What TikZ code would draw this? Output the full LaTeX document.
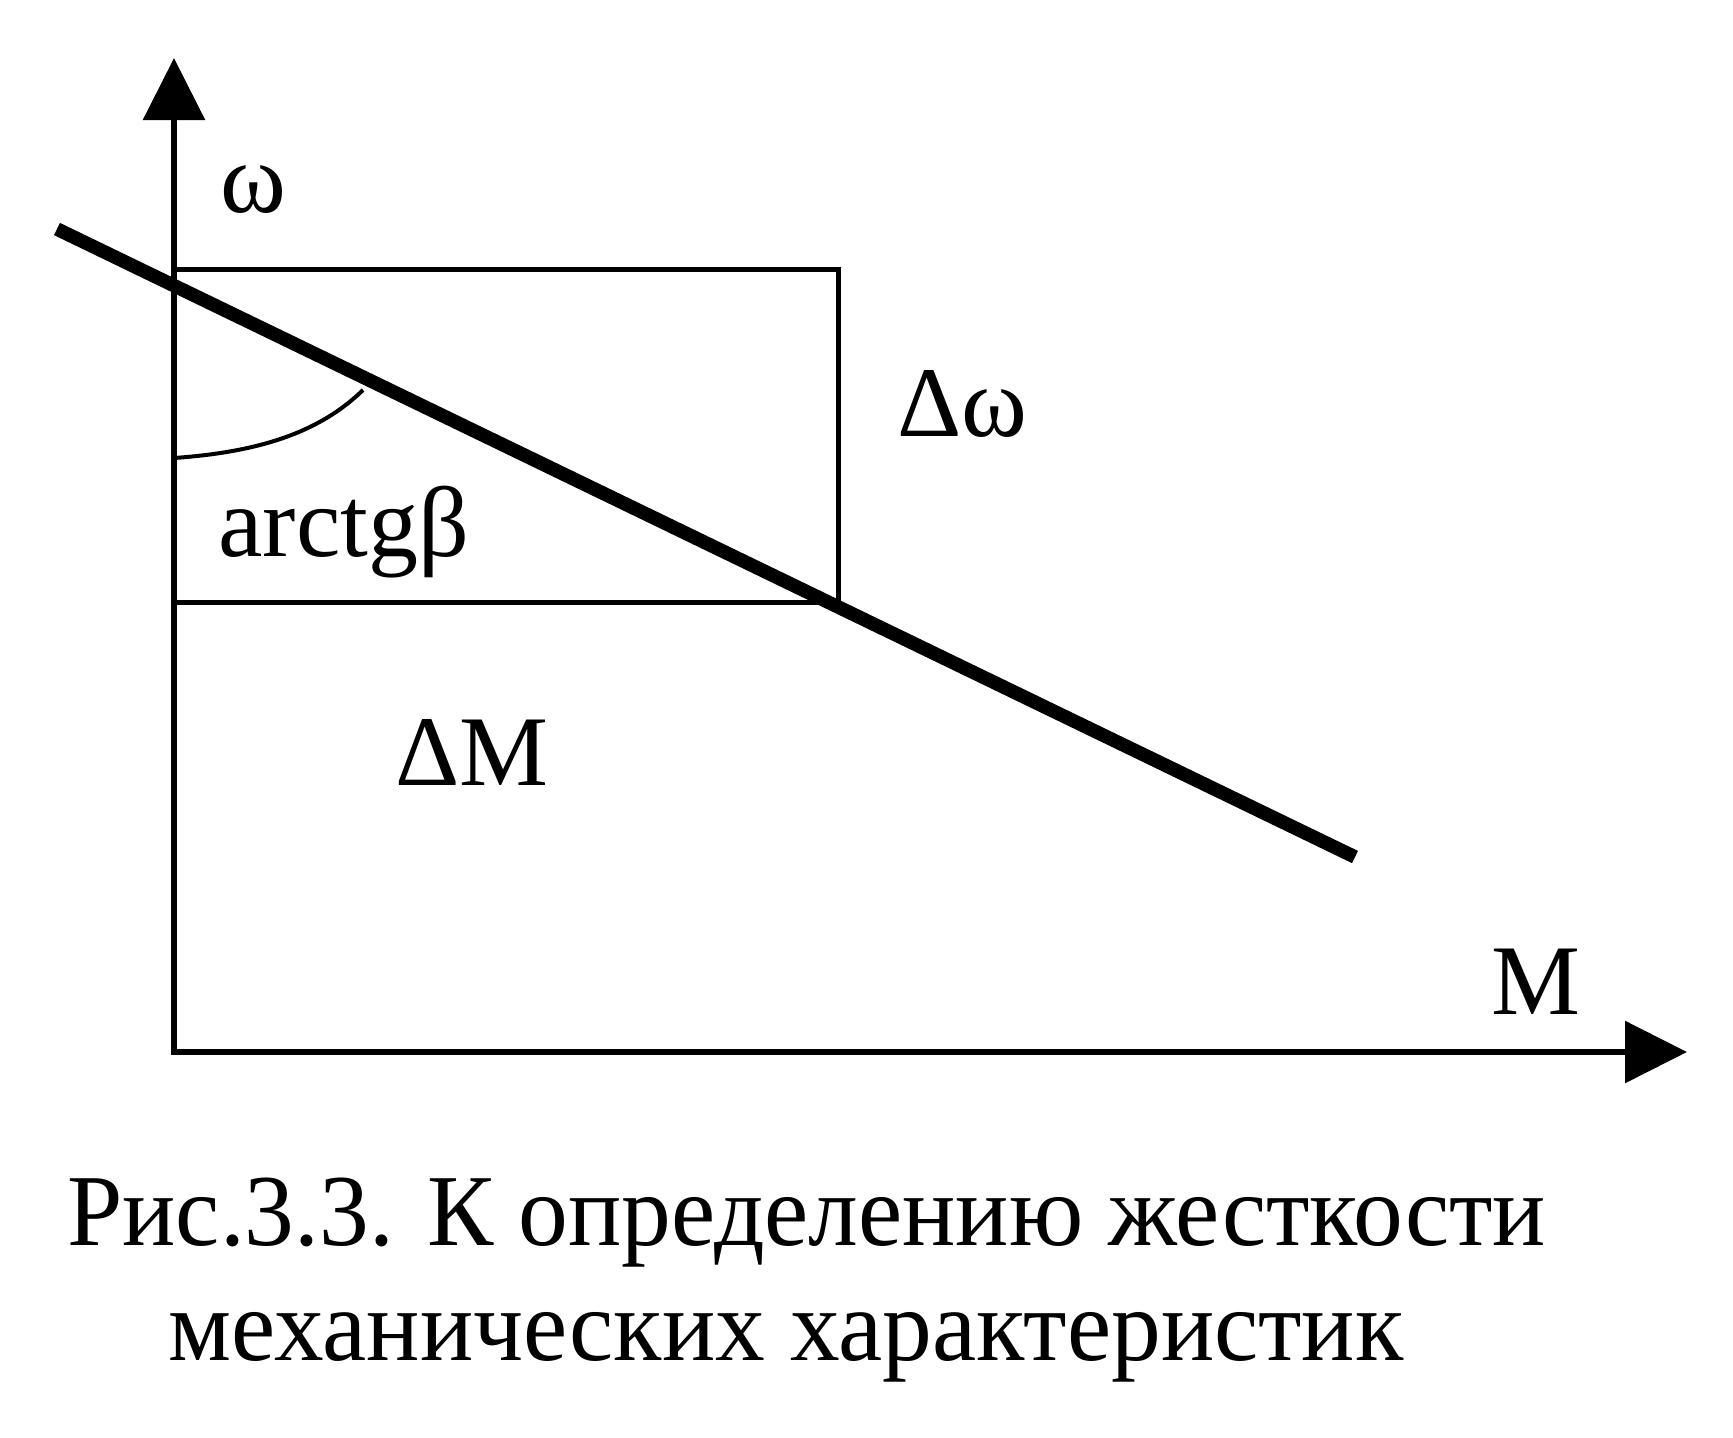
\documentclass[tikz,border=0pt]{standalone}
\usepackage{fontspec}
\setmainfont{Liberation Serif}
\newfontfamily\capfont[FakeStretch=0.975]{Liberation Serif}
\usetikzlibrary{arrows.meta}
\begin{document}
\begin{tikzpicture}[x=0.5pt,y=-0.5pt,
  axis/.style={line width=3pt, {Triangle[length=31pt,width=30.5pt]}-{Triangle[length=31pt,width=30.5pt]}},
  box/.style={line width=2.5pt},
  charline/.style={line width=6.8pt},
  anglearc/.style={line width=2pt},
  lbl/.style={font=\fontsize{50}{60}\selectfont, inner sep=0pt, anchor=base west},
  captext/.style={font=\capfont\fontsize{51}{61}\selectfont, inner sep=0pt, anchor=base west}]
\useasboundingbox (0,0) rectangle (1733,1437);
\coordinate (O) at (174,1052);
\coordinate (Ytip) at (174,58);
\coordinate (Xtip) at (1687,1052);
\coordinate (R1) at (174,269);
\coordinate (R2) at (838,269);
\coordinate (R3) at (838,602);
\coordinate (R4) at (174,602);
\coordinate (L1) at (57,229);
\coordinate (L2) at (1355,857);
\coordinate (A1) at (174,458);
\coordinate (A2) at (363,390);
\draw[box] (R1) -- (R2) -- (R3) -- (R4);
\draw[charline] (L1) -- (L2);
\draw[anglearc] (A1) .. controls (260,452) and (320,432) .. (A2);
\draw[axis] (Ytip) -- (O) -- (Xtip);
\node[lbl] (w) at (220,212) {ω};
\node[lbl] (dw) at (897,436) {Δω};
\node[lbl] (arc) at (218,556) {arctgβ};
\node[lbl] (dM) at (395,785) {ΔM};
\node[lbl] (M) at (1491,1014) {M};
\node[captext] (c1) at (67,1245) {Рис.3.3. К определению жесткости};
\node[captext] (c2) at (168,1360) {механических характеристик};
\end{tikzpicture}
\end{document}
